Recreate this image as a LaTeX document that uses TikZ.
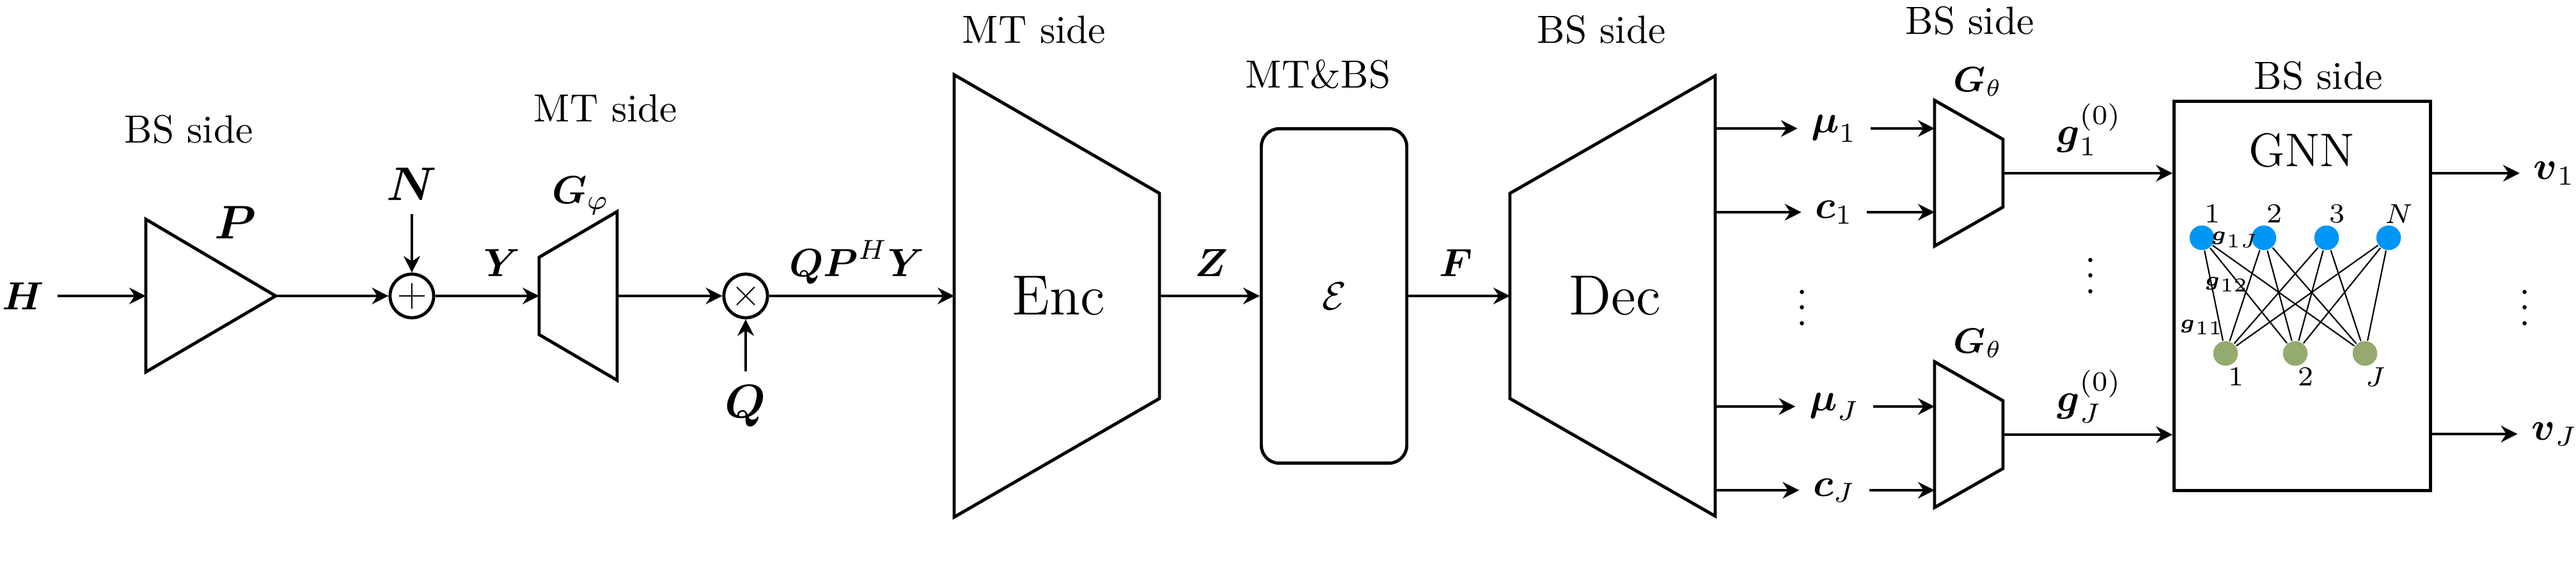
\documentclass[tikz,border=0pt]{standalone}
\usepackage{amsmath,amssymb}
\usepackage{xcolor}
\usepackage{tikz}
\usetikzlibrary{arrows.meta,positioning,calc}
\definecolor{bsblue}{RGB}{0,150,245}
\definecolor{usrgreen}{RGB}{148,170,110}

\begin{document}
\begin{tikzpicture}[
  x=0.5714cm, y=0.5714cm,
  >={Stealth[length=4.2pt,width=4.2pt]},
  sig/.style={->, thick},
  blockline/.style={draw, thick},
  opnode/.style={circle, draw, thick, minimum size=0.39cm, inner sep=0pt},
  gnode/.style={circle, inner sep=0pt, minimum size=0.22cm},
  link/.style={line width=0.35pt},
  lab/.style={font=\normalsize}
]
\useasboundingbox (0,-4.45) rectangle (40.28,4.63);

\foreach \x/\y/\txt [count=\i] in {2.95/2.61/BS side, 9.47/2.94/MT side, 16.17/4.17/MT side,
  20.61/3.47/MT\&BS, 25.04/4.17/BS side, 30.80/4.31/BS side, 36.25/3.45/BS side} {
  \node[lab] (side\i) at (\x,\y) {\txt};
}

% precoder and noise
\node (h) at (0.36,0) {$\boldsymbol{H}$};
\draw[blockline] (2.28,1.2) -- (4.31,0) -- (2.28,-1.19) -- cycle;
\coordinate (pin) at (2.28,0);
\coordinate (pout) at (4.31,0);
\node[font=\large] (plab) at (3.68,1.15) {$\boldsymbol{P}$};
\draw[sig] (h) -- (pin);

\node[opnode] (add) at (6.44,0) {};
\draw[line width=0.3pt] (add.center) +(-0.2,0) -- +(0.2,0) +(0,-0.2) -- +(0,0.2);
\node[font=\large] (n) at (6.44,1.75) {$\boldsymbol{N}$};
\draw[sig] (n) -- (add);
\draw[sig] (pout) -- (add);

% MT side
\draw[blockline] (8.43,0.605) -- (9.65,1.32) -- (9.65,-1.32) -- (8.43,-0.605) -- cycle;
\coordinate (gphiin) at (8.43,0);
\coordinate (gphiout) at (9.65,0);
\node (ylab) at (7.85,0.52) {$\boldsymbol{Y}$};
\node (gphilab) at (9.08,1.57) {$\boldsymbol{G}_\varphi$};
\draw[sig] (add) -- (gphiin);

\node[opnode] (mul) at (11.66,0) {};
\draw[line width=0.3pt] (mul.center) +(-0.14,-0.14) -- +(0.14,0.14) +(-0.14,0.14) -- +(0.14,-0.14);
\draw[sig] (gphiout) -- (mul);
\node[font=\large] (q) at (11.66,-1.72) {$\boldsymbol{Q}$};
\draw[sig] (q) -- (mul);
\node (qphy) at (13.40,0.53) {$\boldsymbol{Q}\boldsymbol{P}^H\boldsymbol{Y}$};

\draw[blockline] (14.92,3.46) -- (18.13,1.605) -- (18.13,-1.605) -- (14.92,-3.46) -- cycle;
\coordinate (encin) at (14.92,0);
\coordinate (encout) at (18.13,0);
\node[font=\Large] (enc) at (16.55,0) {Enc};
\draw[sig] (mul) -- (encin);

% channel and decoder
\node (zlab) at (18.94,0.52) {$\boldsymbol{Z}$};
\node[draw, thick, rounded corners=0.16cm, minimum width=1.30cm, minimum height=2.99cm] (chan) at (20.86,0) {$\mathcal{E}$};
\draw[sig] (encout) -- (chan);
\node (flab) at (22.77,0.52) {$\boldsymbol{F}$};

\draw[blockline] (23.61,1.605) -- (26.82,3.445) -- (26.82,-3.445) -- (23.61,-1.605) -- cycle;
\coordinate (decin) at (23.61,0);
\coordinate (decout) at (26.82,0);
\node[font=\Large] (dec) at (25.25,0) {Dec};
\draw[sig] (chan) -- (decin);

\foreach \y/\nm/\txt in {2.62/mu1/{\boldsymbol{\mu}_1}, 1.31/c1/{\boldsymbol{c}_1},
  -1.73/muJ/{\boldsymbol{\mu}_J}, -3.04/cJ/{\boldsymbol{c}_J}} {
  \node (\nm) at (28.68,\y) {$\txt$};
  \draw[sig] (decout |- \nm) -- (\nm);
}
\node (vd1) at (28.18,0) {$\vdots$};

\foreach \yc/\k in {1.92/1, -2.17/J} {
  \draw[blockline] (30.25,\yc+1.14) -- (31.32,\yc+0.53) -- (31.32,\yc-0.53) -- (30.25,\yc-1.14) -- cycle;
  \coordinate (gtin\k) at (30.25,\yc);
  \coordinate (gtout\k) at (31.32,\yc);
  \node[font=\small] (gtlab\k) at (30.93,\yc+1.43) {$\boldsymbol{G}_\theta$};
}
\foreach \nm/\k in {mu1/1, c1/1, muJ/J, cJ/J}
  \draw[sig] (\nm) -- (\nm -| gtin\k);

% GNN
\node[draw, thick, minimum width=2.29cm, minimum height=3.48cm] (gnn) at (36.0,0) {};
\node[font=\large] (gnnlab) at (35.99,2.28) {GNN};
\node (g1lab) at (32.67,2.60) {$\boldsymbol{g}_1^{(0)}$};
\node (gJlab) at (32.67,-1.57) {$\boldsymbol{g}_J^{(0)}$};
\draw[sig] (gtout1) -- (gtout1 -| gnn.west);
\draw[sig] (gtoutJ) -- (gtoutJ -| gnn.west);
\node (vd2) at (32.69,0.5) {$\vdots$};

\foreach \x/\txt [count=\i] in {34.43/1, 35.40/2, 36.38/3, 37.35/N} {
  \node[gnode, fill=bsblue] (t\i) at (\x,0.91) {};
  \node[font=\scriptsize] (tl\i) at (\x+0.16,1.28) {$\txt$};
}
\foreach \x/\txt [count=\j] in {34.80/1, 35.89/2, 36.98/J} {
  \node[gnode, fill=usrgreen] (r\j) at (\x,-0.90) {};
  \node[font=\scriptsize] (rl\j) at (\x+0.16,-1.27) {$\txt$};
}
\foreach \i in {1,...,4}
  \foreach \j in {1,2,3}
    \draw[link] (t\i) -- (r\j);
\node[font=\tiny] (w1J) at (34.95,0.88) {$\boldsymbol{g}_{1J}$};
\node[font=\tiny] (w12) at (34.82,0.18) {$\boldsymbol{g}_{12}$};
\node[font=\tiny] (w11) at (34.43,-0.49) {$\boldsymbol{g}_{11}$};

\foreach \y/\nm/\txt in {1.92/v1/{\boldsymbol{v}_1}, -2.16/vJ/{\boldsymbol{v}_J}} {
  \node (\nm) at (39.94,\y) {$\txt$};
  \draw[sig] (gnn.east |- \nm) -- (\nm);
}
\node (vd3) at (39.48,0) {$\vdots$};
\end{tikzpicture}
\end{document}
